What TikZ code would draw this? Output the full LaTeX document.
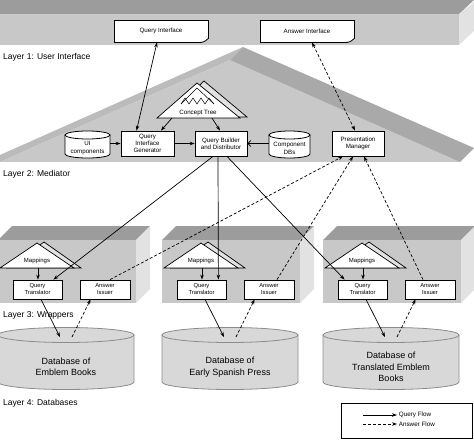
\documentclass[tikz,border=0pt]{standalone}
\usepackage{fontspec}
\setmainfont{Liberation Sans}
\usetikzlibrary{arrows.meta}

\definecolor{slabtop}{HTML}{9C9C9C}
\definecolor{slabfront}{HTML}{C8C8C8}
\definecolor{slabside}{HTML}{E2E2E2}
\definecolor{roofleft}{HTML}{BBBBBB}
\definecolor{roofright}{HTML}{A9A9A9}
\definecolor{dbfill}{HTML}{D8D8D8}
\definecolor{dbline}{HTML}{8C8C8C}

\tikzset{
  box/.style={draw, fill=white, line width=0.8pt, inner sep=0pt, align=center,
    font=\fontsize{6.2}{7}\selectfont},
  wbox/.style={box, font=\fontsize{5.8}{7}\selectfont},
  layertext/.style={anchor=west, inner sep=0pt, font=\fontsize{8.5}{10}\selectfont},
  smalltext/.style={inner sep=0pt, font=\fontsize{6}{7}\selectfont},
  cyltext/.style={inner sep=0pt, align=center, font=\fontsize{6.2}{8}\selectfont},
  dbtext/.style={inner sep=0pt, align=center, font=\fontsize{9}{11.5}\selectfont},
  legtext/.style={inner sep=1.5pt, font=\fontsize{6.3}{7}\selectfont},
  smallcyl/.style={draw=black, fill=white, line width=0.8pt},
  dbcyl/.style={draw=dbline, fill=dbfill, line width=0.8pt},
  qflow/.style={line width=0.7pt, -{Stealth[length=5pt,width=3.5pt]}},
  aflow/.style={qflow, dash pattern=on 3pt off 2pt},
  qboth/.style={line width=0.7pt, {Stealth[length=5pt,width=3.5pt]}-{Stealth[length=5pt,width=3.5pt]}},
  aboth/.style={qboth, dash pattern=on 3pt off 2pt},
  openflow/.style={line width=0.7pt, -{Straight Barb[length=3pt,width=6pt]}},
}

%% #1 style, #2 left x, #3 right x, #4 top centre y, #5 bottom centre y, #6 y radius
\newcommand{\cylshape}[6]{%
  \pgfmathsetmacro{\cylcx}{(#2+#3)/2}%
  \pgfmathsetmacro{\cylrx}{(#3-#2)/2}%
  \filldraw[#1] (#2,#4) -- (#2,#5) arc[start angle=180, end angle=0, x radius=\cylrx, y radius=#6] -- (#3,#4);
  \filldraw[#1] (\cylcx,#4) ellipse[x radius=\cylrx, y radius=#6];
}

%% folded corner of a page node
\newcommand{\pagecurl}[1]{%
  \fill[slabfront] ([xshift=1pt,yshift=4pt]#1.south east) -- ([xshift=1pt,yshift=-1pt]#1.south east)
    -- ([xshift=-8pt,yshift=-1pt]#1.south east) -- cycle;
  \draw[line width=0.8pt] ([xshift=-8pt]#1.south east) .. controls ([xshift=-3pt]#1.south east)
    and ([xshift=-2pt,yshift=3pt]#1.south east) .. ([yshift=4pt]#1.south east);
}

\begin{document}
\begin{tikzpicture}[x=1pt,y=-1pt]
  \useasboundingbox (0,0) rectangle (474,441);

  %% layer 1 slab
  \fill[slabtop] (0,0) -- (474,0) -- (459,14) -- (0,14) -- cycle;
  \fill[slabfront] (0,14) rectangle (459,45);
  \fill[slabside] (459,14) -- (474,2) -- (474,31) -- (459,45) -- cycle;

  %% layer 2 roof
  \fill[roofleft] (243,47) -- (230,60) -- (0,162) -- (0,155) -- cycle;
  \fill[slabfront] (230,60) -- (460,162) -- (0,162) -- cycle;
  \fill[roofright] (243,47) -- (474,148) -- (460,162) -- (230,60) -- cycle;

  \node[layertext] (lay1) at (3,57) {Layer 1: User Interface};
  \node[layertext] (lay2) at (3,174) {Layer 2: Mediator};
  \node[layertext] (lay3) at (3,315) {Layer 3: Wrappers};
  \node[layertext] (lay4) at (3,403) {Layer 4: Databases};

  %% user interface
  \node[box, minimum width=94pt, minimum height=22pt] (qi) at (161,31) {Query Interface};
  \pagecurl{qi}
  \node[box, minimum width=94pt, minimum height=22pt] (ai) at (307,31) {Answer Interface};
  \pagecurl{ai}

  %% concept tree
  \draw[fill=slabside, line width=0.7pt] (166,117) -- (204,81) -- (247,117) -- cycle;
  \draw[fill=white, line width=0.7pt] (157,118) -- (197,83) -- (240,118) -- cycle;
  \draw[line width=0.5pt] (181,104) -- (197,88) -- (214,104);
  \draw[line width=0.5pt] (181,104) -- (185,98) -- (189,104) -- (193,98) -- (197,104)
    -- (201,98) -- (205,104) -- (209,98) -- (214,104);
  \node[smalltext, font=\fontsize{6.2}{7}\selectfont] (ct) at (198,113) {Concept Tree};
  \coordinate (ctl) at (172,118);
  \coordinate (ctr) at (212,118);

  %% mediator
  \cylshape{smallcyl}{65}{110}{135}{154}{4}
  \node[cyltext, minimum width=45pt] (uic) at (87.5,148.5) {UI\\components};
  \cylshape{smallcyl}{269}{310}{135}{154}{4}
  \node[cyltext, minimum width=41pt] (cdb) at (289.5,148.5) {Component\\DBs};
  \node[box, minimum width=53pt, minimum height=25pt] (qig) at (147.5,143.5) {Query\\Interface\\Generator};
  \node[box, minimum width=52pt, minimum height=25pt] (qbd) at (221,143.5) {Query Builder\\and Distributor};
  \node[box, minimum width=52pt, minimum height=25pt] (pm) at (358,143.5) {Presentation\\Manager};

  \draw[qflow] (uic.east |- qig.west) -- (qig.west);
  \draw[qflow] (qig) -- (qbd);
  \draw[openflow] (cdb.west |- qbd.east) -- (qbd.east);
  \draw[qflow] (ctl) -- ([xshift=13.5pt]qig.north);
  \draw[qflow] (ctr) -- ([xshift=-1pt]qbd.north);
  \draw[qboth] ([xshift=-4pt]qi.south) -- ([xshift=-11pt]qig.north);
  \draw[aboth] ([xshift=5pt]ai.south) -- ([xshift=-3pt]pm.north);

  %% wrappers and databases
  \foreach \i/\dx/\dbname in {1/-2/{Database of\\Emblem Books},
      2/162/{Database of\\Early Spanish Press},
      3/323/{Database of\\Translated Emblem\\Books}}{
    \begin{scope}[shift={(\dx,0)}]
      \fill[slabtop] (0,240) -- (14,226) -- (152,226) -- (138,240) -- cycle;
      \fill[slabfront] (0,240) rectangle (138,303);
      \fill[slabside] (138,240) -- (152,226) -- (152,289) -- (138,303) -- cycle;
      \draw[fill=slabside, line width=0.7pt] (9,268) -- (46,242) -- (83,268) -- cycle;
      \draw[fill=white, line width=0.7pt] (2,268) -- (39,243) -- (76,268) -- cycle;
      \node[smalltext] (map\i) at (39,261) {Mappings};
      \coordinate (mb\i) at (40,268);
      \node[wbox, minimum width=49pt, minimum height=19pt] (qt\i) at (39.5,289.5) {Query\\Translator};
      \node[wbox, minimum width=50pt, minimum height=19pt] (ai\i) at (107,289.5) {Answer\\Issuer};
      \draw[qflow] (mb\i) -- (mb\i |- qt\i.north);

      \cylshape{dbcyl}{0}{136}{335}{382}{7.5}
      \node[dbtext] (db\i) at (68,367) {\dbname};
      \coordinate (dbin\i) at (62,337);
      \coordinate (dbout\i) at (74,337);
      \draw[qflow] ([xshift=3.5pt]qt\i.south) -- (dbin\i);
      \draw[aflow] (dbout\i) -- ([xshift=11pt]ai\i.south west);
    \end{scope}
  }

  %% mediator <-> wrappers
  \draw[qflow] ([xshift=-8pt]qbd.south) -- ([xshift=-9pt]qt1.north east);
  \draw[qflow] ([xshift=-3pt]qbd.south) -- ([xshift=-8pt]qt2.north east);
  \draw[qflow] ([xshift=6pt]qbd.south) -- ([xshift=7pt]qt3.north west);
  \draw[aflow] ([xshift=5pt]ai1.north) -- ([xshift=-15pt]pm.south);
  \draw[aflow] ([xshift=8pt]ai2.north) -- ([xshift=-5pt]pm.south);
  \draw[aflow] ([xshift=-7pt]ai3.north) -- ([xshift=6pt]pm.south);

  %% legend
  \node[draw, line width=0.8pt, minimum width=131pt, minimum height=35pt, inner sep=0pt] (legend) at (406.5,420.5) {};
  \coordinate (lq) at (363,415);
  \coordinate (la) at (363,424);
  \draw[qflow] (lq) -- ++(34,0) node[legtext, anchor=west] (lqt) {Query Flow};
  \draw[aflow] (la) -- ++(34,0) node[legtext, anchor=west] (lat) {Answer Flow};
\end{tikzpicture}
\end{document}
